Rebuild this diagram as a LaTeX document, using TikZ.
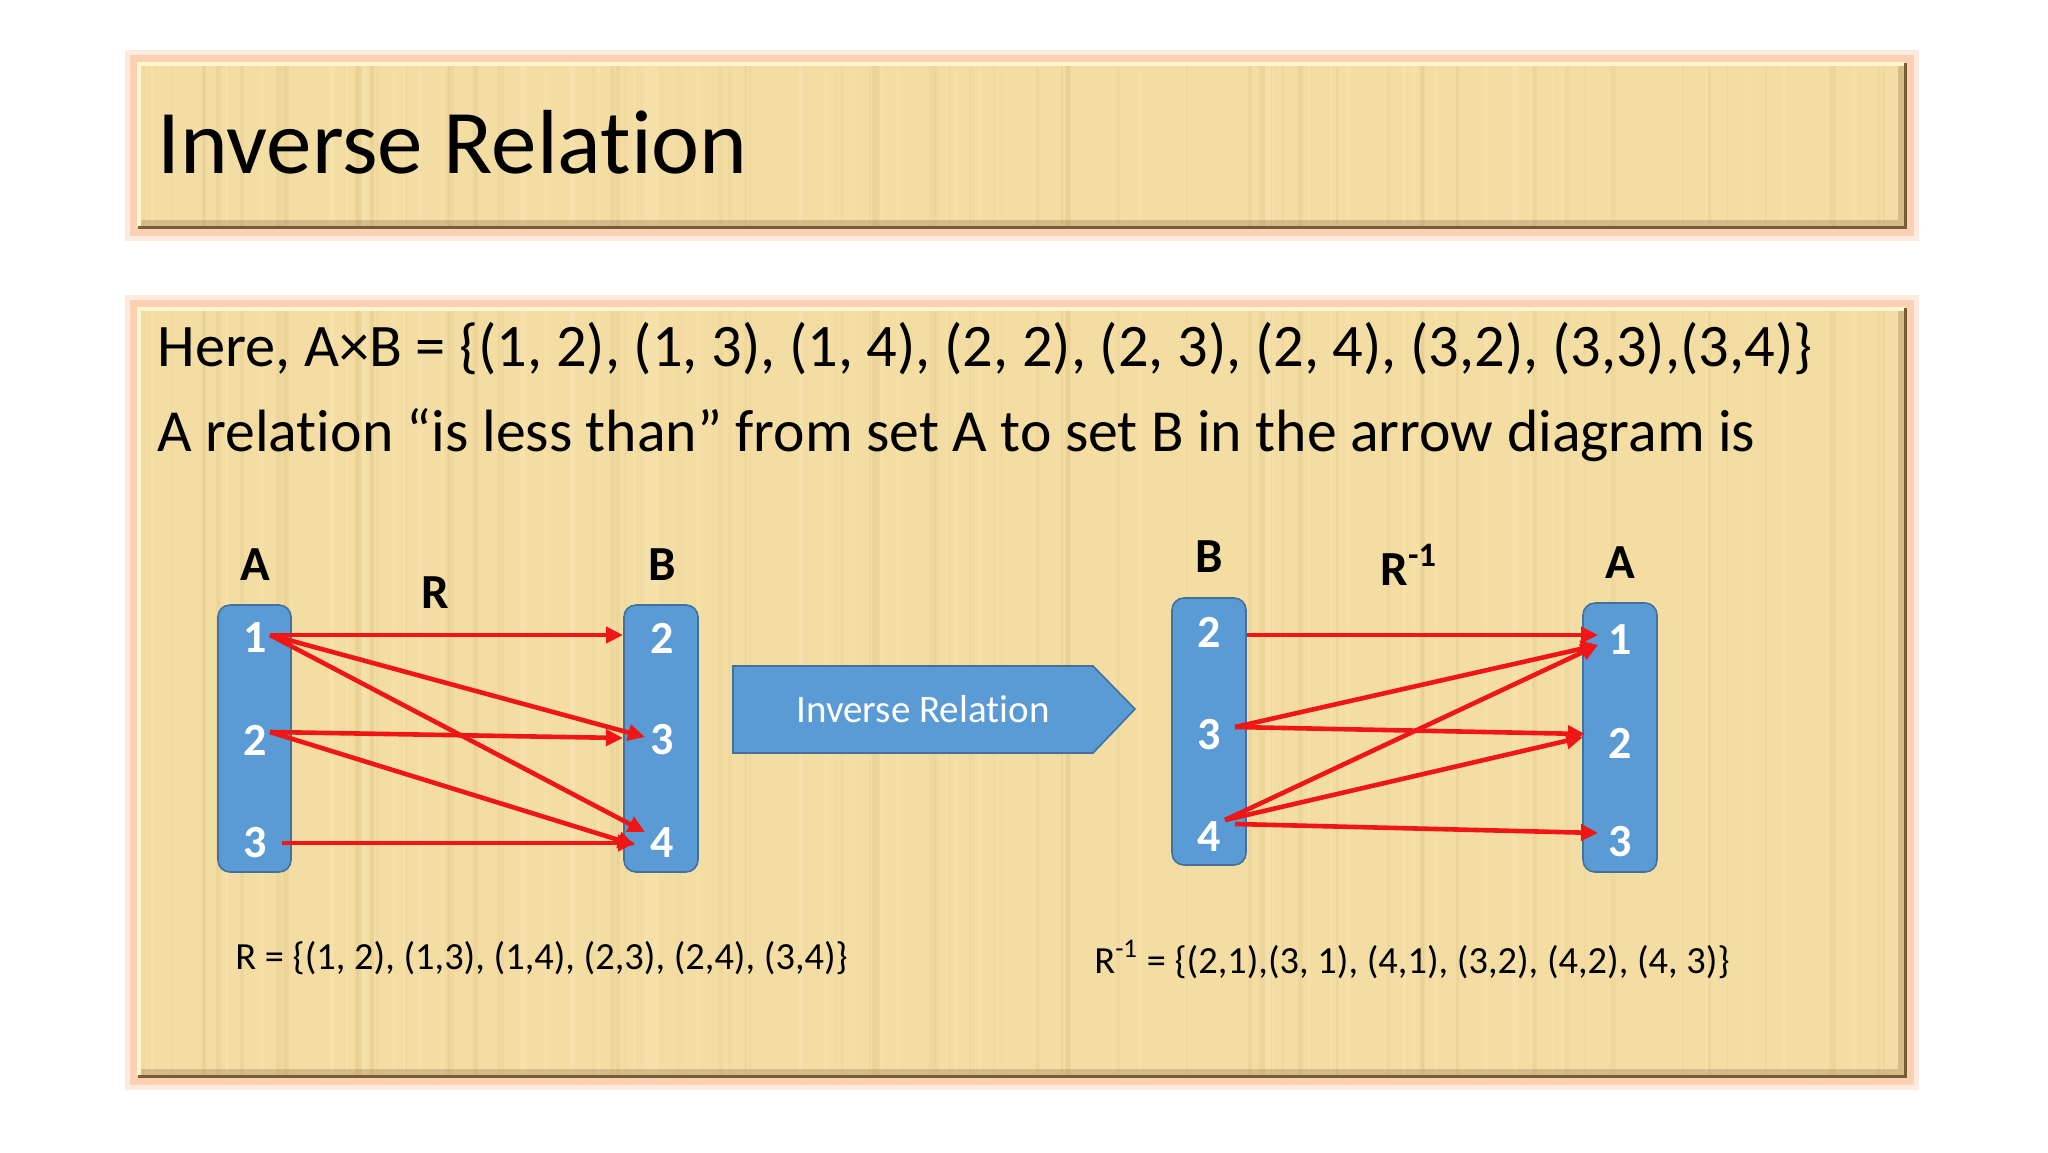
\documentclass[tikz,border=0pt]{standalone}
\usepackage{fontspec}
\setmainfont[RawFeature={-liga}]{Carlito}
\usetikzlibrary{arrows.meta}
\definecolor{parch}{RGB}{243,221,163}
\definecolor{parchdark}{RGB}{214,184,118}
\definecolor{parchlight}{RGB}{255,242,200}
\definecolor{glowc}{RGB}{250,190,150}
\definecolor{setblue}{RGB}{91,155,213}
\definecolor{setedge}{RGB}{65,113,156}
\definecolor{arrred}{RGB}{240,22,22}
\definecolor{bevdark}{RGB}{120,92,55}
\definecolor{bevlight}{RGB}{255,246,205}
\newcommand\parchpanel[4]{%
  \draw[glowc, line width=12pt, opacity=0.3] (#1,#2) rectangle (#3,#4);
  \draw[glowc, line width=7pt, opacity=0.6] (#1,#2) rectangle (#3,#4);
  \fill[parch] (#1,#2) rectangle (#3,#4);
  \begin{scope}
    \clip (#1,#2) rectangle (#3,#4);
    \pgfmathsetseed{7}
    \foreach \i in {1,...,140}{
      \pgfmathsetmacro\xx{#1+(#3-#1)*rnd}
      \pgfmathsetmacro\ww{0.4+2.5*rnd}
      \pgfmathsetmacro\oo{0.08+0.15*rnd}
      \ifodd\i
        \draw[parchdark, line width=\ww pt, opacity=\oo] (\xx,#2) -- (\xx,#4);
      \else
        \draw[parchlight, line width=\ww pt, opacity=\oo] (\xx,#2) -- (\xx,#4);
      \fi
    }
  \end{scope}
  \draw[bevlight, line width=2pt] (#1+2,#4-2) -- (#1+2,#2+2) -- (#3-2,#2+2);
  \draw[bevdark, line width=1.8pt] (#1+1,#4-1.5) -- (#3-1.5,#4-1.5) -- (#3-1.5,#2+1);
  \draw[bevdark, line width=3pt, opacity=0.25] (#1+4,#4-6) -- (#3-6,#4-6) -- (#3-6,#2+4);
}
\tikzset{
  setbox/.style={draw=setedge, fill=setblue, line width=0.8pt, rounded corners=6pt, inner sep=0},
  elem/.style={text=white, font=\bfseries\fontsize{23}{26}\selectfont, inner sep=0},
  setlabel/.style={font=\bfseries\fontsize{24.5}{28}\selectfont, inner sep=0, anchor=base},
  rel/.style={draw=arrred, line width=2.3pt, -{Triangle[length=8.5pt,width=8pt]}},
  bodytext/.style={anchor=base west, inner sep=0, font=\fontsize{30.2}{36}\selectfont},
  settext/.style={anchor=base west, inner sep=0, font=\fontsize{19.2}{23}\selectfont},
}
\begin{document}
\begin{tikzpicture}[x=0.5pt,y=-0.5pt]
\useasboundingbox (0,0) rectangle (2048,1152);
\fill[white] (0,0) rectangle (2048,1152);

% panels
\parchpanel{137}{62}{1907}{229}
\parchpanel{137}{307}{1907}{1078}

% texts
\node[anchor=base west, inner sep=0, font=\fontsize{45.5}{52}\selectfont] (title) at (157,173) {Inverse Relation};
\node[bodytext] (line1) at (157,366) {Here, A×B = \{(1, 2), (1, 3), (1, 4), (2, 2), (2, 3), (2, 4), (3,2), (3,3),(3,4)\}};
\node[bodytext, font=\fontsize{29.85}{36}\selectfont] (line2) at (157,451) {A relation “is less than” from set A to set B in the arrow diagram is};

% left diagram
\node[setbox, minimum width=36.5pt, minimum height=133.5pt] (boxA) at (254.5,738.5) {};
\node[setbox, minimum width=37pt, minimum height=133.5pt] (boxB) at (661,738.5) {};
\node[setlabel] (labA) at (255,580) {A};
\node[setlabel] (labB) at (662,580) {B};
\node[setlabel] (labR) at (435,608) {R};
\node[elem] (a1) at (255,638) {1};
\node[elem] (a2) at (255,740) {2};
\node[elem] (a3) at (255,843) {3};
\node[elem] (b2) at (662,638) {2};
\node[elem] (b3) at (662,740) {3};
\node[elem] (b4) at (662,843) {4};

\coordinate (s1) at (270,635);
\coordinate (s2) at (270,732);
\coordinate (s3) at (282,843);
\coordinate (e12) at (623,635);
\coordinate (e13) at (645,737);
\coordinate (e14) at (645,832);
\coordinate (e23) at (623,738);
\coordinate (e24) at (635,845);
\coordinate (e34) at (635,843);
\draw[rel] (s1) -- (e12);
\draw[rel] (s1) -- (e13);
\draw[rel] (s1) -- (e14);
\draw[rel] (s2) -- (e23);
\draw[rel] (s2) -- (e24);
\draw[rel] (s3) -- (e34);

% block arrow
\draw[fill=setblue, draw=setedge, line width=0.8pt] (733,666) -- (1093,666) -- (1135,709) -- (1093,753) -- (733,753) -- cycle;
\node[text=white, inner sep=0, font=\fontsize{19.5}{23}\selectfont] (inv) at (923,709) {Inverse Relation};

% right diagram
\node[setbox, minimum width=37pt, minimum height=133.5pt] (boxB2) at (1209,731.5) {};
\node[setbox, minimum width=37pt, minimum height=134.5pt] (boxA2) at (1620,737.5) {};
\node[setlabel] (labB2) at (1209,572) {B};
\node[setlabel] (labA2) at (1620,578) {A};
\node[setlabel, anchor=base west] (labRi) at (1380,585) {R\textsuperscript{-1}};
\node[elem] (c2) at (1209,632) {2};
\node[elem] (c3) at (1209,735) {3};
\node[elem] (c4) at (1209,837) {4};
\node[elem] (d1) at (1620,640) {1};
\node[elem] (d2) at (1620,743) {2};
\node[elem] (d3) at (1620,842) {3};

\coordinate (r2) at (1247,635);
\coordinate (r3) at (1235,727);
\coordinate (r4) at (1225,820);
\coordinate (r4b) at (1235,824);
\coordinate (t21) at (1598,635);
\coordinate (t31) at (1598,645);
\coordinate (t41) at (1598,645);
\coordinate (t32) at (1585,734);
\coordinate (t42) at (1583,737);
\coordinate (t43) at (1598,833);
\draw[rel] (r2) -- (t21);
\draw[rel] (r3) -- (t31);
\draw[rel] (r4) -- (t41);
\draw[rel] (r3) -- (t32);
\draw[rel] (r4) -- (t42);
\draw[rel] (r4b) -- (t43);

% relation sets
\node[settext] (relR) at (235,969) {R = \{(1, 2), (1,3), (1,4), (2,3), (2,4), (3,4)\}};
\node[settext] (relRi) at (1094,973) {R\textsuperscript{-1} = \{(2,1),(3, 1), (4,1), (3,2), (4,2), (4, 3)\}};
\end{tikzpicture}
\end{document}
